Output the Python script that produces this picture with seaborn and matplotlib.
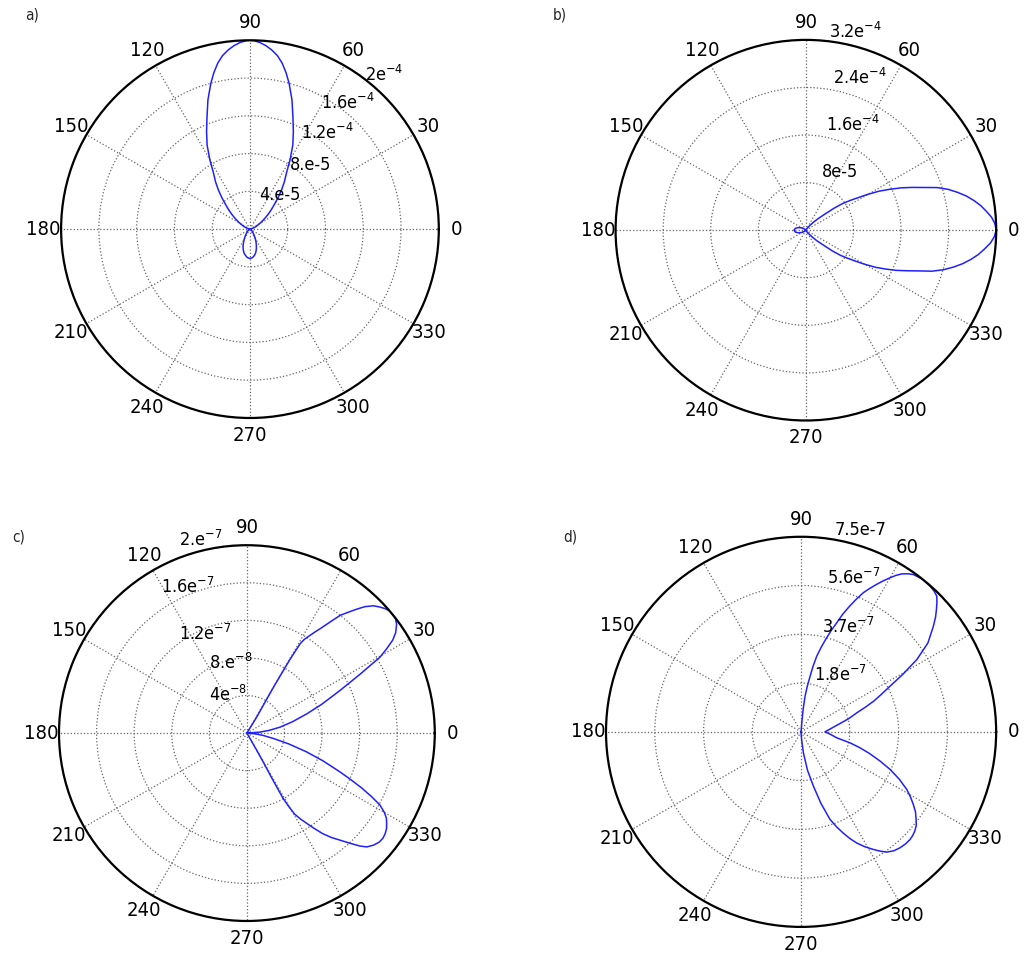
import numpy as np
import matplotlib
matplotlib.use('Agg')
import matplotlib.pyplot as plt
import seaborn as sns

# --- values (angle in degrees, radius) ---
# a) main lobe up, small back lobe down (units 1e-5)
theta_a = [0, 10, 20, 25, 30, 33, 36, 39, 42, 45, 48, 51, 54, 57, 60, 63, 66, 69, 72, 75,
           77, 79, 81, 83, 85, 87, 89, 90, 91, 93, 95, 97, 99, 101, 103, 105, 108, 111, 114,
           117, 120, 123, 126, 129, 132, 135, 138, 141, 144, 147, 150, 155, 160, 170, 180,
           190, 200, 210, 220, 230, 235, 240, 244, 248, 252, 256, 260, 263, 266, 268, 270,
           272, 274, 277, 280, 284, 288, 292, 296, 300, 305, 310, 320, 330, 340, 350, 360]
r_a = [0, 0.1, 0.5, 0.8, 1.2, 1.55, 1.95, 2.45, 3.0, 3.6, 4.4, 5.3, 6.2, 7.1, 8.5, 10.0, 11.3, 12.7, 14.4, 16.0,
       17.0, 17.9, 18.6, 19.1, 19.5, 19.8, 19.97, 20.0, 19.97, 19.8, 19.5, 19.1, 18.6, 17.9, 17.0, 16.0, 14.4, 12.7, 11.3,
       10.0, 8.5, 7.1, 6.2, 5.3, 4.4, 3.6, 3.0, 2.45, 1.95, 1.55, 1.2, 0.8, 0.5, 0.1, 0,
       0, 0.05, 0.15, 0.3, 0.6, 0.85, 1.2, 1.55, 1.95, 2.3, 2.6, 2.8, 2.95, 3.05, 3.08, 3.1,
       3.08, 3.05, 2.95, 2.8, 2.55, 2.2, 1.8, 1.45, 1.1, 0.75, 0.5, 0.25, 0.1, 0.03, 0, 0]

# b) lobe towards 0 deg, tiny back lobe (units 1e-5)
theta_b = [0, 2, 4, 6, 8, 10, 12, 14, 16, 18, 20, 22, 24, 26, 28, 30, 32, 34, 36, 38, 41,
           44, 47, 50, 55, 60, 70, 90, 120, 140, 150, 160, 170, 180, 190, 200, 210, 220,
           240, 270, 290, 300, 305, 310, 313, 316, 319, 322, 324, 326, 328, 330, 332, 334,
           336, 338, 340, 342, 344, 346, 348, 350, 352, 354, 356, 358, 360]
r_b = [32.0, 31.8, 31.3, 30.5, 29.7, 28.7, 27.6, 26.3, 24.9, 23.2, 21.0, 19.2, 17.5, 15.7, 14.0, 12.1, 10.3, 8.9, 7.6, 6.0, 3.8,
       2.6, 1.7, 1.0, 0.5, 0.2, 0, 0, 0, 0.3, 0.75, 1.3, 1.8, 2.0, 1.8, 1.3, 0.75, 0.3,
       0, 0, 0, 0.2, 0.45, 0.9, 1.6, 2.5, 3.6, 5.7, 7.2, 8.4, 9.8, 11.5, 13.3, 14.9,
       16.6, 18.2, 20.0, 22.3, 24.1, 25.6, 27.0, 28.2, 29.3, 30.2, 31.1, 31.7, 32.0]

# c) two lobes, traced in path order (units 1e-8)
theta_c = [-59, -60, -60.5, -61, -61, -60.3, -59.5, -58, -56.5, -55, -53, -51, -49, -47, -45,
           -43.5, -41.5, -39.5, -37.7, -36, -34.3, -32.8, -31.4, -30, -28.4, -27, -25.5, -24,
           -22.6, -20, -17.4, -14.5, -11.5, -8, -5, 0,
           4.3, 7, 10.2, 14, 17.8, 21, 24.6, 27.5, 29.7, 31, 32.5, 34, 36, 37.5, 39, 40.5, 42,
           43.5, 45.2, 47, 48.5, 50, 51.6, 53, 54.9, 56, 57.5, 58.5, 59.2, 59.7, 59.9, 59.5,
           58.5, 57]
r_c = [0, 1.5, 3.5, 5.5, 7.9, 9.0, 10.0, 10.8, 11.5, 12.3, 13.4, 14.3, 15.1, 16.0, 17.0,
       17.6, 18.0, 18.25, 18.3, 18.2, 18.0, 17.7, 17.4, 16.9, 16.1, 14.9, 13.5, 12.0,
       10.7, 8.6, 6.6, 4.6, 2.9, 1.7, 0.8, 0,
       1.4, 2.4, 3.6, 5.0, 6.7, 8.5, 10.9, 13.6, 16.3, 17.3, 18.4, 19.1, 19.7, 19.95, 20.0, 20.0, 19.8,
       19.5, 19.1, 18.4, 17.6, 16.8, 16.0, 14.9, 13.6, 13.0, 12.2, 11.7, 11.1, 9.0, 5.7, 3.5,
       2.0, 0]

# d) two lobes joined by a notch at 0 deg (units 1e-7)
theta_d = [-90, -88, -86, -83.7, -80.5, -77.2, -74.5, -71.7, -69.5, -67.5, -65.5, -63.4, -61,
           -58.5, -56.5, -54.5, -52, -49.5, -47, -44.7, -43, -41, -39, -37.3, -35, -33, -30.8,
           -28.6, -25.8, -22.9, -20.2, -17.5, -15, -12.7, -9.5, -4.6, 0,
           5, 9, 12, 15.5, 18.8, 21, 23, 25, 27.2, 29.5, 32, 35, 38.6, 40.5, 42, 43.5, 45,
           46.8, 48.5, 51.5, 54.5, 56, 57.5, 58.8, 60, 61.5, 63, 64.5, 65.9, 67.5, 69, 70.5,
           71.9, 73.5, 75, 76.6, 78.3, 79.7, 81, 82.3, 83.6, 84.7, 85.6, 88]
r_d = [0, 0.1, 0.3, 0.81, 1.5, 2.14, 2.85, 3.55, 3.9, 4.2, 4.5, 4.78, 5.05,
       5.3, 5.5, 5.68, 5.8, 5.86, 5.89, 5.89, 5.86, 5.8, 5.7, 5.56, 5.37, 5.15, 4.9,
       4.63, 4.2, 3.72, 3.22, 2.75, 2.32, 1.93, 1.39, 1.12, 0.92,
       1.1, 1.3, 1.53, 1.9, 2.26, 2.65, 3.05, 3.4, 3.85, 4.5, 5.25, 5.95, 6.51, 6.8, 7.0, 7.2, 7.38,
       7.45, 7.48, 7.5, 7.43, 7.33, 7.2, 7.03, 6.84, 6.6, 6.35, 6.1, 5.86, 5.5, 5.15, 4.8,
       4.41, 4.05, 3.7, 3.35, 2.97, 2.55, 2.1, 1.75, 1.38, 0.9, 0.35, 0]

# radial rings and their labels
rings_a = [4e-5, 8e-5, 1.2e-4, 1.6e-4, 2e-4]
rlabels_a = ['4.e-5', '8.e-5', '1.2e$^{-4}$', '1.6e$^{-4}$', '2e$^{-4}$']
rings_b = [8e-5, 1.6e-4, 2.4e-4, 3.2e-4]
rlabels_b = ['8e-5', '1.6e$^{-4}$', '2.4e$^{-4}$', '3.2e$^{-4}$']
rings_c = [4e-8, 8e-8, 1.2e-7, 1.6e-7, 2e-7]
rlabels_c = ['4e$^{-8}$', '8.e$^{-8}$', '1.2e$^{-7}$', '1.6e$^{-7}$', '2.e$^{-7}$']
rings_d = [1.875e-7, 3.75e-7, 5.625e-7, 7.5e-7]
rlabels_d = ['1.8e$^{-7}$', '3.7e$^{-7}$', '5.6e$^{-7}$', '7.5e-7']

theta_ticks = list(range(0, 360, 30))

# where the radial labels sit: (angle in deg, fraction of outer radius)
lab_pos_a = [(49, 0.239), (47, 0.467), (51, 0.652), (52, 0.846), (49, 1.081)]
lab_pos_b = [(60, 0.354), (66, 0.608), (70.5, 0.849), (76, 1.073)]
lab_pos_c = [(116, 0.227), (103, 0.382), (113, 0.573), (112, 0.839), (103.5, 1.055)]
lab_pos_d = [(55, 0.354), (66, 0.589), (71, 0.832), (73.5, 1.078)]

sns.set_style('white')
plt.rcParams['font.family'] = ['Liberation Sans Narrow', 'DejaVu Sans']
plt.rcParams['font.stretch'] = 'condensed'
plt.rcParams['mathtext.fontset'] = 'custom'
plt.rcParams['mathtext.rm'] = 'DejaVu Sans:stretch=condensed'
plt.rcParams['mathtext.it'] = 'DejaVu Sans:stretch=condensed'

fig = plt.figure(figsize=(10.24, 9.66), dpi=100)

panels = [
    ('a)', [0.0596, 0.5673, 0.369, 0.391], theta_a, r_a, 1e-5, rings_a, rlabels_a, lab_pos_a, (25, 15)),
    ('b)', [0.601, 0.5647, 0.372, 0.394], theta_b, r_b, 1e-5, rings_b, rlabels_b, lab_pos_b, (553, 15)),
    ('c)', [0.0576, 0.0466, 0.367, 0.389], theta_c, r_c, 1e-8, rings_c, rlabels_c, lab_pos_c, (12, 537)),
    ('d)', [0.5918, 0.0404, 0.381, 0.404], theta_d, r_d, 1e-7, rings_d, rlabels_d, lab_pos_d, (563, 537)),
]

for tag, box, th, rr, unit, rings, rlabels, lab_pos, tagpos in panels:
    ax = fig.add_axes(box, projection='polar')
    sns.lineplot(x=np.deg2rad(th), y=np.array(rr) * unit, ax=ax, sort=False,
                 estimator=None, color='#2020ff', linewidth=1.1)
    ax.set_xlabel('')
    ax.set_ylabel('')
    rmax = rings[-1]
    ax.set_ylim(0, rmax)
    ax.set_rgrids(rings, labels=[''] * len(rings))
    for lab, (ang, frac) in zip(rlabels, lab_pos):
        ax.text(np.deg2rad(ang), frac * rmax, lab, fontsize=13, ha='center', va='center',
                color='black', clip_on=False)
    ax.set_thetagrids(theta_ticks, labels=[str(t) for t in theta_ticks], fontsize=14.5)
    ax.tick_params(axis='x', pad=2, colors='black')
    ax.grid(True, linestyle=':', color='#666666', linewidth=0.9)
    ax.spines['polar'].set_linewidth(1.6)
    ax.spines['polar'].set_color('black')
    fig.text(tagpos[0] / 1024, 1 - tagpos[1] / 966, tag, fontsize=11, va='center', ha='left')

fig.savefig('out.png', dpi=100)
